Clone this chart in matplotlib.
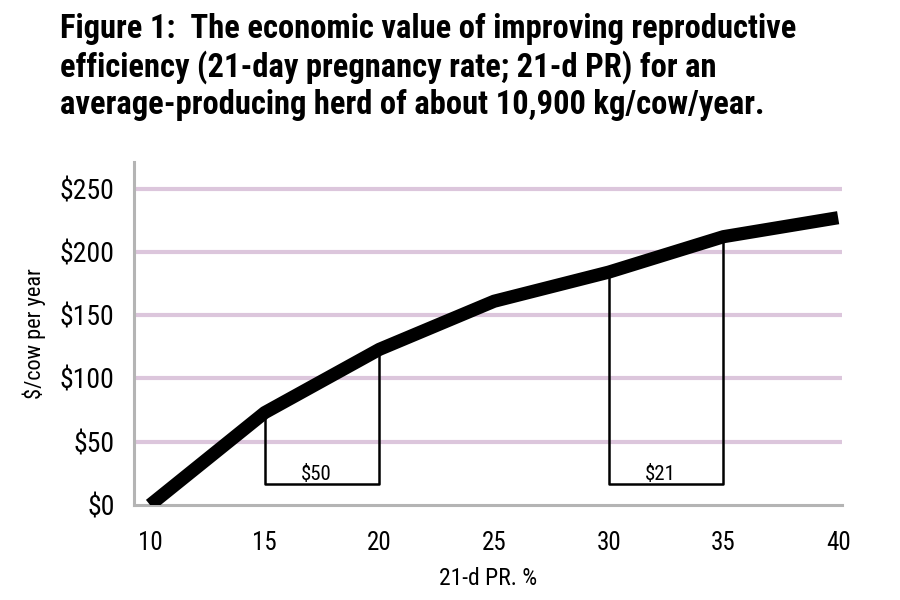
import matplotlib
matplotlib.use("Agg")
import matplotlib.pyplot as plt

# -----------------------------------
# DATA
# -----------------------------------

pregnancy_rate = [10, 15, 20, 25, 30, 35, 40]
value_per_cow = [0, 73, 123, 161, 184, 212, 227]

y_ticks = [0, 50, 100, 150, 200, 250]
y_labels = ["$0", "$50", "$100", "$150", "$200", "$250"]

# brackets: (start PR, end PR, label)
gap_start = [15, 30]
gap_end = [20, 35]
gap_labels = ["$50", "$21"]
gap_floor = 17

title = ("Figure 1:  The economic value of improving reproductive\n"
         "efficiency (21-day pregnancy rate; 21-d PR) for an\n"
         "average-producing herd of about 10,900 kg/cow/year.")

plt.rcParams["font.family"] = ["Roboto Condensed", "DejaVu Sans"]

# -----------------------------------
# FIGURE
# -----------------------------------

fig = plt.figure(figsize=(9, 6), dpi=100)
ax = fig.add_axes([0.1489, 0.1583, 0.7867, 0.5717])

for y in y_ticks[1:]:
    ax.axhline(y, color="#dcc6dc", linewidth=3, zorder=1)

ax.plot(pregnancy_rate, value_per_cow, color="black", linewidth=9.5,
        solid_capstyle="butt", solid_joinstyle="round", zorder=4)

# brackets under the curve
for x0, x1, lab in zip(gap_start, gap_end, gap_labels):
    y0 = value_per_cow[pregnancy_rate.index(x0)]
    y1 = value_per_cow[pregnancy_rate.index(x1)]
    ax.plot([x0, x0, x1, x1], [y0, gap_floor, gap_floor, y1],
            color="black", linewidth=1.8, zorder=3)
    ax.text((x0 + x1) / 2 - 0.25, gap_floor, lab, ha="center",
            va="bottom", fontsize=15, zorder=5)

# -----------------------------------
# AXES
# -----------------------------------

ax.set_xlim(9.3, 40.17)
ax.set_ylim(0, 271)

ax.set_xticks(pregnancy_rate)
ax.set_xticklabels([str(v) for v in pregnancy_rate], fontsize=18)
ax.set_yticks(y_ticks)
ax.set_yticklabels(y_labels, fontsize=20)
ax.tick_params(axis="x", length=0, pad=19)
ax.tick_params(axis="y", length=0, pad=14)

for side in ["top", "right"]:
    ax.spines[side].set_visible(False)
for side in ["left", "bottom"]:
    ax.spines[side].set_color("#b4b4b4")
    ax.spines[side].set_linewidth(2.2)

ax.set_xlabel("21-d PR. %", fontsize=17, labelpad=8)
ax.set_ylabel("$/cow per year", fontsize=16, labelpad=10)

# -----------------------------------
# TITLE
# -----------------------------------

fig.text(60 / 900, 1 - 13 / 600, title, ha="left", va="top",
         fontsize=23.5, fontweight="bold", linespacing=1.2)

fig.savefig("out.png", dpi=100)
